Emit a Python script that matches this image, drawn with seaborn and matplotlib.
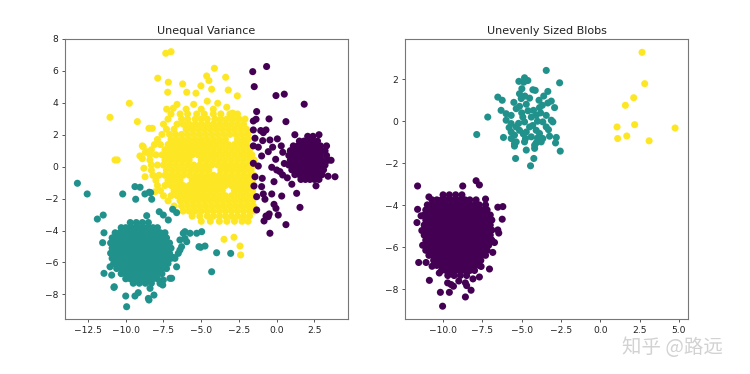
import matplotlib
matplotlib.use("Agg")
import pandas as pd
import matplotlib.pyplot as plt
import seaborn as sns
from matplotlib.ticker import MultipleLocator

# --- Unequal Variance (panel izquierdo) ---
# nube densa amarilla, leida por filas: (y, [x...])
izq_amarillo_filas = [
    (3.30, [-7.0, -6.4, -5.9, -5.3, -4.8, -4.2, -3.7, -3.1, -2.6]),
    (2.98, [-7.2, -6.3, -5.9, -5.4, -5.0, -4.6, -4.1, -3.7, -3.3, -2.9, -2.5, -2.1]),
    (2.66, [-7.5, -6.6, -6.2, -5.8, -5.4, -5.0, -4.6, -4.2, -3.8, -3.4, -3.0, -2.6, -2.2]),
    (2.34, [-7.3, -6.8, -6.0, -5.6, -5.2, -4.8, -4.4, -4.0, -3.6, -3.2, -2.8, -2.4, -2.0]),
    (2.02, [-7.6, -7.1, -6.7, -6.3, -5.9, -5.5, -5.1, -4.7, -4.3, -3.9, -3.5, -3.1, -2.7, -2.3, -1.9]),
    (1.70, [-7.9, -7.0, -6.6, -6.2, -5.8, -5.4, -5.0, -4.6, -4.2, -3.8, -3.4, -2.6, -2.2, -1.9]),
    (1.38, [-8.1, -7.7, -7.2, -6.8, -6.4, -6.0, -5.6, -5.2, -4.8, -4.4, -4.0, -3.6, -3.2, -2.8, -2.4, -2.0]),
    (1.06, [-8.3, -7.4, -7.0, -6.6, -6.2, -5.8, -5.4, -5.0, -4.6, -4.2, -3.8, -3.4, -3.0, -2.6, -2.2, -1.8]),
    (0.74, [-8.4, -8.0, -7.6, -7.2, -6.8, -6.4, -6.0, -5.6, -5.2, -4.8, -4.4, -4.0, -3.6, -3.2, -2.8, -2.4, -2.0, -1.65]),
    (0.42, [-8.4, -7.4, -7.0, -6.6, -6.2, -5.8, -5.0, -4.6, -4.2, -3.8, -3.4, -3.0, -2.6, -2.2, -1.8, -1.5]),
    (0.10, [-8.3, -7.9, -7.5, -7.1, -6.7, -6.3, -5.9, -5.5, -5.1, -4.7, -4.3, -3.9, -3.5, -3.1, -2.7, -2.3, -1.9, -1.5]),
    (-0.22, [-8.3, -7.3, -6.9, -6.5, -6.1, -5.7, -5.3, -4.9, -4.5, -3.7, -3.3, -2.9, -2.5, -2.1, -1.7]),
    (-0.54, [-8.2, -7.8, -7.4, -7.0, -6.6, -6.2, -5.8, -5.4, -5.0, -4.6, -4.2, -3.8, -3.4, -3.0, -2.6, -2.2, -1.8, -1.5]),
    (-0.86, [-8.0, -7.2, -6.8, -6.4, -5.6, -5.2, -4.8, -4.4, -4.0, -3.6, -3.2, -2.8, -2.4, -2.0, -1.6]),
    (-1.18, [-7.9, -7.4, -7.0, -6.6, -6.2, -5.8, -5.4, -5.0, -4.6, -4.2, -3.8, -3.4, -3.0, -2.6, -2.2, -1.8, -1.5]),
    (-1.50, [-7.7, -6.8, -6.4, -6.0, -5.6, -5.2, -4.8, -4.4, -4.0, -3.6, -2.8, -2.4, -2.0, -1.6]),
    (-1.82, [-7.5, -7.0, -6.6, -6.2, -5.8, -5.4, -5.0, -4.6, -4.2, -3.8, -3.4, -3.0, -2.6, -2.2, -1.8, -1.5]),
    (-2.14, [-7.2, -6.4, -6.0, -5.6, -5.2, -4.8, -4.4, -4.0, -3.6, -3.2, -2.8, -2.4, -2.0, -1.6]),
    (-2.46, [-6.8, -6.3, -5.9, -5.5, -5.1, -4.7, -4.3, -3.9, -3.5, -3.1, -2.7, -2.3, -1.9, -1.55]),
    (-2.78, [-6.2, -5.8, -5.4, -5.0, -4.6, -4.2, -3.8, -3.4, -3.0, -2.6, -2.2, -1.8, -1.5]),
    (-3.10, [-5.6, -5.1, -4.6, -4.2, -3.8, -3.4, -3.0, -2.6, -2.2, -1.8]),
    (-3.42, [-5.0, -4.4, -3.8, -3.3, -2.8, -2.3, -1.9]),
]
izq_amarillo_sueltos = [
    (-7.35, 7.1), (-7.0, 7.2), (-7.88, 5.54), (-7.18, 5.29), (-7.22, 4.66), (-6.23, 5.18),
    (-5.96, 4.66), (-5.35, 4.6), (-5.02, 5.06), (-4.64, 5.68), (-4.49, 5.39), (-4.13, 6.16),
    (-3.38, 5.6), (-4.31, 4.85), (-3.21, 4.8), (-2.61, 4.43), (-3.91, 3.97), (-3.31, 3.72),
    (-2.92, 3.35), (-7.29, 3.6), (-6.85, 3.66), (-6.6, 3.9), (-6.0, 3.6), (-5.5, 3.9),
    (-5.0, 3.6), (-4.6, 4.1), (-4.2, 3.6), (-9.76, 3.97), (-11.04, 3.09), (-9.23, 2.82),
    (-8.46, 2.4), (-8.24, 2.4), (-10.71, 0.42), (-10.56, 0.42), (-9.06, 0.67), (-8.61, 0.94),
    (-8.84, 1.25), (-8.9, 1.3), (-8.7, 0.9), (-8.9, 0.5), (-8.8, -0.1), (-8.72, -0.63),
    (-8.06, -1.57), (-3.49, -4.55), (-2.83, -4.42), (-2.43, -4.97), (-2.39, -5.53),
]
# nube densa verde azulado
izq_verde_filas = [
    (-3.50, [-9.7, -9.3, -8.9, -8.5]),
    (-3.82, [-10.3, -10.0, -9.7, -9.4, -9.1, -8.8, -8.5, -8.2, -7.9]),
    (-4.14, [-10.7, -10.4, -10.1, -9.8, -9.5, -9.2, -8.9, -8.6, -8.3, -8.0, -7.7, -7.4]),
    (-4.46, [-10.9, -10.6, -10.3, -10.0, -9.7, -9.4, -9.1, -8.8, -8.5, -8.2, -7.9, -7.6, -7.3]),
    (-4.78, [-11.0, -10.7, -10.4, -10.1, -9.8, -9.5, -9.2, -8.9, -8.6, -8.3, -8.0, -7.7, -7.4, -7.1]),
    (-5.10, [-10.9, -10.6, -10.3, -10.0, -9.7, -9.4, -9.1, -8.8, -8.5, -8.2, -7.9, -7.6, -7.3, -7.0]),
    (-5.42, [-11.0, -10.7, -10.4, -10.1, -9.8, -9.5, -9.2, -8.9, -8.6, -8.3, -8.0, -7.7, -7.4, -7.1]),
    (-5.74, [-10.9, -10.6, -10.3, -10.0, -9.7, -9.4, -9.1, -8.8, -8.5, -8.2, -7.9, -7.6, -7.3, -7.0]),
    (-6.06, [-10.8, -10.5, -10.2, -9.9, -9.6, -9.3, -9.0, -8.7, -8.4, -8.1, -7.8, -7.5, -7.2]),
    (-6.38, [-10.6, -10.3, -10.0, -9.7, -9.4, -9.1, -8.8, -8.5, -8.2, -7.9, -7.6, -7.3]),
    (-6.70, [-10.3, -10.0, -9.7, -9.4, -9.1, -8.8, -8.5, -8.2, -7.9, -7.6]),
    (-7.02, [-10.0, -9.7, -9.4, -9.1, -8.8, -8.5, -8.2, -7.9]),
    (-7.30, [-9.5, -9.1, -8.7, -8.3]),
]
izq_verde_sueltos = [
    (-13.2, -1.04), (-12.55, -1.71), (-11.88, -3.28), (-11.49, -3.03), (-10.2, -1.71),
    (-9.39, -1.25), (-9.05, -1.29), (-9.34, -2.04), (-8.73, -1.71), (-8.44, -1.6),
    (-8.28, -2.04), (-8.35, -1.63), (-8.61, -3.07), (-7.78, -2.82), (-7.51, -3.03),
    (-7.18, -3.34), (-6.89, -2.67), (-6.63, -2.88), (-11.53, -4.76), (-11.44, -4.14),
    (-11.44, -6.68), (-11.04, -6.27), (-10.93, -6.79), (-10.78, -7.56), (-10.76, -7.52),
    (-10.0, -8.1), (-9.94, -8.77), (-9.39, -8.1), (-9.17, -7.89), (-8.5, -8.25),
    (-8.46, -8.35), (-8.13, -8.04), (-8.39, -7.62), (-7.73, -7.31), (-7.55, -7.41),
    (-7.51, -7.1), (-7.07, -6.99), (-6.96, -6.99), (-6.85, -5.68), (-6.74, -5.74),
    (-6.63, -6.27), (-6.52, -5.43), (-6.41, -5.22), (-6.3, -5.01), (-6.41, -4.59),
    (-6.19, -4.17), (-6.08, -4.49), (-6.08, -4.07), (-5.96, -4.7), (-5.74, -4.17),
    (-5.3, -4.17), (-4.97, -4.07), (-5.15, -5.01), (-5.04, -5.05), (-4.75, -4.97),
    (-3.98, -5.39), (-3.05, -5.43), (-4.31, -6.58),
]
# nube densa morada y puntos morados dispersos
izq_morado_filas = [
    (1.90, [2.05, 2.4]),
    (1.60, [1.5, 1.8, 2.1, 2.4, 2.7]),
    (1.30, [1.1, 1.4, 1.7, 2.0, 2.3, 2.6, 2.9]),
    (1.00, [0.9, 1.2, 1.5, 1.8, 2.1, 2.4, 2.7, 3.0, 3.2]),
    (0.70, [0.8, 1.1, 1.4, 1.7, 2.0, 2.3, 2.6, 2.9, 3.3]),
    (0.40, [0.9, 1.2, 1.5, 1.8, 2.1, 2.4, 2.7, 3.0, 3.4]),
    (0.10, [0.8, 1.1, 1.4, 1.7, 2.0, 2.3, 2.6, 2.9, 3.2]),
    (-0.20, [1.0, 1.3, 1.6, 1.9, 2.2, 2.5, 2.8, 3.1]),
    (-0.50, [1.2, 1.5, 1.8, 2.1, 2.4, 2.7, 3.0]),
    (-0.80, [1.6, 1.9, 2.2, 2.5, 2.8]),
]
izq_morado_sueltos = [
    (-1.59, 5.95), (-0.67, 6.27), (-1.49, 5.01), (-0.05, 4.45), (0.5, 4.54), (1.82, 3.91),
    (-1.33, 3.45), (-1.55, 2.86), (-1.37, 2.97), (-0.51, 2.99), (0.61, 2.82), (-1.55, 2.3),
    (-1.06, 2.26), (-0.89, 2.13), (-0.71, 2.3), (-1.44, 1.78), (-0.93, 1.63), (-0.45, 1.67),
    (0.04, 1.74), (-1.55, 1.3), (-1.22, 1.22), (-0.27, 1.22), (-0.56, 0.94), (-1.0, 0.67),
    (-0.07, 0.46), (-1.55, 0.21), (-1.22, 0.04), (-0.33, -0.04), (0.0, -0.21), (0.21, -0.31),
    (0.39, -0.52), (-1.44, -0.63), (-0.96, -0.73), (-0.18, -0.94), (-1.51, -1.21), (-1.0, -1.25),
    (1.32, -1.67), (-1.33, -1.88), (-0.89, -1.71), (-0.33, -1.71), (0.33, -1.84), (-0.78, -2.04),
    (-0.18, -2.36), (-0.05, -2.61), (-1.33, -2.71), (1.54, -2.55), (-0.5, -2.96), (-0.71, -3.09),
    (0.1, -3.03), (-0.84, -3.4), (0.61, -3.63), (-0.45, -4.17), (-0.56, -3.13), (3.86, -0.63),
    (0.4, 0.9), (0.5, 0.2), (3.6, 0.4), (3.4, -0.6), (0.7, -0.7), (2.6, -1.2), (1.0, -1.1),
    (3.3, 1.3), (2.8, 2.0), (1.2, 2.0), (0.3, 1.3),
]

# --- Unevenly Sized Blobs (panel derecho) ---
der_morado_filas = [
    (-3.50, [-10.0, -9.6, -9.2, -8.8]),
    (-3.74, [-10.7, -10.4, -10.1, -9.8, -9.5, -9.2, -8.9, -8.6, -8.3, -7.9]),
    (-3.98, [-11.0, -10.7, -10.4, -10.1, -9.8, -9.5, -9.2, -8.9, -8.6, -8.3, -8.0, -7.7, -7.3]),
    (-4.22, [-11.1, -10.8, -10.5, -10.2, -9.9, -9.6, -9.3, -9.0, -8.7, -8.4, -8.1, -7.8, -7.5, -7.2]),
    (-4.46, [-11.2, -10.9, -10.6, -10.3, -10.0, -9.7, -9.4, -9.1, -8.8, -8.5, -8.2, -7.9, -7.6, -7.3, -7.0]),
    (-4.70, [-11.1, -10.8, -10.5, -10.2, -9.9, -9.6, -9.3, -9.0, -8.7, -8.4, -8.1, -7.8, -7.5, -7.2, -6.9]),
    (-4.94, [-11.2, -10.9, -10.6, -10.3, -10.0, -9.7, -9.4, -9.1, -8.8, -8.5, -8.2, -7.9, -7.6, -7.3, -7.0]),
    (-5.18, [-11.1, -10.8, -10.5, -10.2, -9.9, -9.6, -9.3, -9.0, -8.7, -8.4, -8.1, -7.8, -7.5, -7.2, -6.9]),
    (-5.42, [-11.2, -10.9, -10.6, -10.3, -10.0, -9.7, -9.4, -9.1, -8.8, -8.5, -8.2, -7.9, -7.6, -7.3, -7.0]),
    (-5.66, [-11.1, -10.8, -10.5, -10.2, -9.9, -9.6, -9.3, -9.0, -8.7, -8.4, -8.1, -7.8, -7.5, -7.2, -6.9]),
    (-5.90, [-11.0, -10.7, -10.4, -10.1, -9.8, -9.5, -9.2, -8.9, -8.6, -8.3, -8.0, -7.7, -7.4, -7.1]),
    (-6.14, [-11.1, -10.8, -10.5, -10.2, -9.9, -9.6, -9.3, -9.0, -8.7, -8.4, -8.1, -7.8, -7.5, -7.2]),
    (-6.38, [-10.9, -10.6, -10.3, -10.0, -9.7, -9.4, -9.1, -8.8, -8.5, -8.2, -7.9, -7.6, -7.3]),
    (-6.62, [-10.6, -10.3, -10.0, -9.7, -9.4, -9.1, -8.8, -8.5, -8.2, -7.9, -7.6]),
    (-6.86, [-10.4, -10.1, -9.8, -9.5, -9.2, -8.9, -8.6, -8.3, -8.0, -7.7]),
    (-7.10, [-10.1, -9.8, -9.5, -9.2, -8.9, -8.6, -8.3, -8.0]),
    (-7.34, [-9.7, -9.3, -8.9, -8.5]),
]
der_morado_sueltos = [
    (-11.62, -3.08), (-8.75, -3.08), (-7.9, -2.83), (-7.69, -3.03), (-11.62, -4.19),
    (-11.66, -4.82), (-11.55, -6.72), (-11.08, -6.72), (-10.87, -7.57), (-10.17, -8.14),
    (-10.03, -8.8), (-9.6, -8.14), (-8.58, -8.36), (-8.22, -8.04), (-6.52, -4.09),
    (-6.2, -4.06), (-6.24, -4.66), (-6.52, -5.17), (-6.46, -5.32), (-6.73, -5.77),
    (-6.94, -5.64), (-6.84, -6.24), (-7.58, -6.91), (-7.05, -7.03), (-7.69, -7.41),
    (-10.24, -7.22), (-9.71, -7.69), (-9.49, -7.77), (-9.34, -7.85), (-8.58, -7.69),
    (-8.5, -7.82), (-10.9, -3.6), (-7.3, -3.7), (-11.3, -5.9), (-11.35, -5.2),
    (-11.4, -4.5), (-9.0, -7.6), (-8.1, -7.5), (-10.7, -6.9),
]
der_verde = [
    (-3.44, 2.42), (-2.59, 1.83), (-4.82, 2.07), (-4.87, 1.86), (-4.61, 1.94), (-5.18, 1.9),
    (-4.29, 1.5), (-4.14, 1.47), (-4.99, 1.55), (-3.34, 1.42), (-5.14, 1.31), (-5.03, 1.08),
    (-6.52, 1.15), (-6.24, 1.0), (-7.16, 0.2), (-7.86, -0.63), (-6.31, 0.52), (-5.99, 0.36),
    (-5.67, 0.28), (-5.35, 0.6), (-5.14, 0.71), (-4.71, 0.81), (-4.25, 0.52), (-3.87, 0.65),
    (-3.69, 0.76), (-3.34, 0.87), (-3.12, 0.96), (-2.91, 0.65), (-4.93, 0.2), (-4.39, 0.2),
    (-4.08, 0.28), (-3.44, 0.28), (-3.12, 0.05), (-5.99, 0.05), (-5.67, -0.11), (-5.35, -0.27),
    (-4.82, -0.03), (-4.5, -0.27), (-4.08, -0.43), (-3.66, -0.03), (-3.44, -0.27), (-3.02, -0.03),
    (-5.67, -0.51), (-5.46, -0.66), (-5.14, -0.43), (-6.16, -0.77), (-4.71, -0.51), (-4.39, -0.74),
    (-3.87, -0.58), (-3.66, -0.82), (-3.23, -0.71), (-2.8, -0.77), (-5.67, -0.82), (-5.46, -1.06),
    (-5.35, -0.98), (-4.76, -0.82), (-4.82, -0.98), (-4.18, -1.14), (-4.08, -1.03), (-3.76, -0.98),
    (-5.46, -1.18), (-4.18, -1.29), (-2.85, -1.03), (-4.71, -1.37), (-2.55, -1.42), (-5.39, -1.77),
    (-4.23, -1.77), (-4.44, -2.12), (-4.6, 0.5), (-4.0, 0.0), (-3.8, 0.4), (-4.3, -0.2),
    (-5.0, 0.4), (-5.5, 0.9), (-4.8, 1.2), (-3.9, 1.0), (-5.2, -0.1), (-3.3, -0.4),
    (-4.9, -0.6), (-4.5, 1.1), (-3.6, 1.2), (-5.8, -0.3), (-4.0, -0.8),
]
der_amarillo = [
    (2.65, 3.28), (2.82, 1.79), (2.12, 1.12), (1.59, 0.76), (1.06, -0.27),
    (2.18, -0.16), (1.1, -0.82), (1.68, -0.7), (3.1, -0.93), (4.75, -0.32),
]

colores = {0: '#440154', 1: '#21918c', 2: '#fde725'}


def filas_a_puntos(filas):
    pts = []
    for y, xs in filas:
        pts += [(x, y) for x in xs]
    return pts


def armar_df(grupos):
    registros = []
    for etiqueta, pts in grupos:
        for x, y in pts:
            registros.append({'x': x, 'y': y, 'cluster': etiqueta})
    return pd.DataFrame(registros)


df_izq = armar_df([
    (2, filas_a_puntos(izq_amarillo_filas)),
    (2, izq_amarillo_sueltos),
    (1, filas_a_puntos(izq_verde_filas)),
    (1, izq_verde_sueltos),
    (0, filas_a_puntos(izq_morado_filas)),
    (0, izq_morado_sueltos),
])
df_der = armar_df([
    (0, filas_a_puntos(der_morado_filas)),
    (0, der_morado_sueltos),
    (1, der_verde),
    (2, der_amarillo),
])

sns.set_style("white")
plt.rcParams['font.family'] = ['DejaVu Sans', 'Noto Sans CJK SC']

fig = plt.figure(figsize=(7.5, 3.74), dpi=100)
ax1 = fig.add_axes([0.0867, 0.147, 0.3773, 0.749])
ax2 = fig.add_axes([0.540, 0.147, 0.3773, 0.749])

for ax, df, titulo, xlim, ylim in [
    (ax1, df_izq, 'Unequal Variance', (-14.02, 4.72), (-9.54, 8.0)),
    (ax2, df_der, 'Unevenly Sized Blobs', (-12.42, 5.57), (-9.41, 3.92)),
]:
    sns.scatterplot(data=df, x='x', y='y', hue='cluster', palette=colores,
                    s=26, linewidth=0, alpha=1, legend=False, ax=ax)
    ax.set_xlim(*xlim)
    ax.set_ylim(*ylim)
    ax.xaxis.set_major_locator(MultipleLocator(2.5))
    ax.yaxis.set_major_locator(MultipleLocator(2))
    ax.set_xlabel('')
    ax.set_ylabel('')
    ax.set_title(titulo, fontsize=8, pad=3.5, color='#222222')
    ax.tick_params(axis='both', which='major', labelsize=6.6, length=2.5, width=0.7,
                   pad=2.5, color='#555555', labelcolor='#222222',
                   bottom=True, left=True, direction='out')
    for lado in ax.spines.values():
        lado.set_color('#777777')
        lado.set_linewidth(0.8)

# marca de agua del original
fig.text(0.896, 0.072, '知乎 @路远', fontsize=14, color='#d2d2d2',
         ha='center', va='center', family=['Noto Sans CJK SC', 'DejaVu Sans'])

fig.savefig('out.png', dpi=100)
